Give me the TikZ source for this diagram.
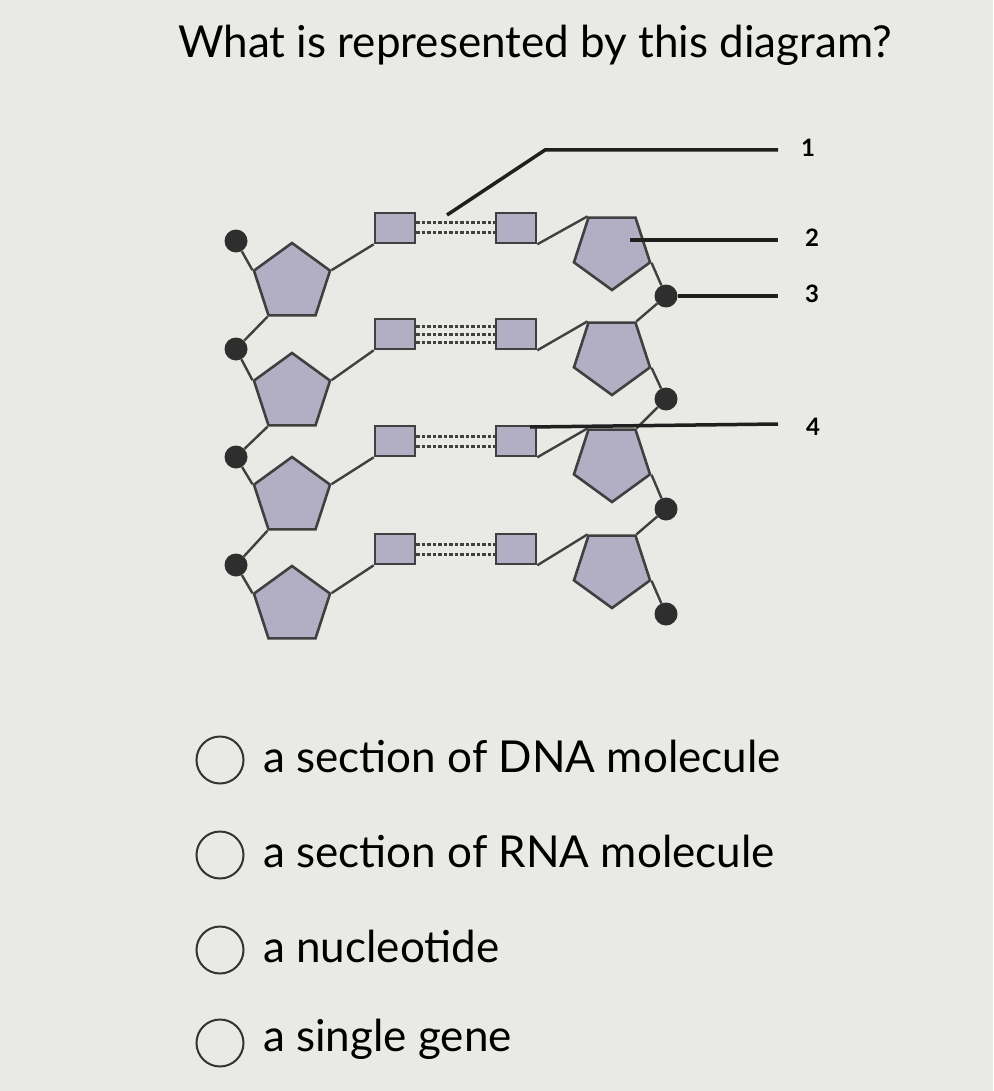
\documentclass[tikz,border=0pt]{standalone}
\usepackage{fontspec}
\setmainfont{Lato}
\usetikzlibrary{shapes.geometric}
\begin{document}
\begin{tikzpicture}[x=1pt,y=-1pt,
  pent/.style={regular polygon,regular polygon sides=5,minimum size=80pt,inner sep=0pt,draw=black!75,line width=2.6pt,fill=sugar},
  rpent/.style={pent,shape border rotate=180},
  base/.style={rectangle,minimum width=40pt,minimum height=30pt,inner sep=0pt,draw=black!75,line width=2.6pt,fill=sugar},
  phos/.style={circle,minimum size=23pt,inner sep=0pt,fill=black!82},
  link/.style={black!75,line width=2.4pt},
  bond/.style={black!75,line width=3pt,dash pattern=on 3.5pt off 2pt},
  lead/.style={black!88,line width=3.5pt},
  lbl/.style={font=\fontsize{24}{26}\selectfont\bfseries},
  opt/.style={circle,draw=black!80,line width=2pt,minimum size=47pt,inner sep=0pt},
  otxt/.style={anchor=west,font=\fontsize{44}{50}\selectfont,inner sep=0pt}]
\definecolor{sugar}{RGB}{178,174,196}
\fill[fill={rgb,255:red,233;green,233;blue,230}] (0,0) rectangle (993,1091);
\useasboundingbox (0,0) rectangle (993,1091);
\node[font=\fontsize{44}{50}\selectfont,anchor=west,inner sep=0pt] (title) at (178,45) {What is represented by this diagram?};
\foreach \i/\y in {1/283,2/393,3/497,4/606}{
  \node[pent] (L\i) at (292,\y) {};
}
\foreach \i/\y in {1/241,2/349,3/457,4/565}{
  \node[phos] (PL\i) at (236,\y) {};
}
\foreach \i/\y in {1/228,2/334,3/441,4/549}{
  \node[base] (BL\i) at (395,\y) {};
  \node[base] (BR\i) at (516,\y) {};
}
\foreach \i/\y in {1/250,2/355,3/462,4/568}{
  \node[rpent] (R\i) at (612,\y) {};
}
\foreach \i/\y in {1/296,2/399,3/509,4/614}{
  \node[phos] (PR\i) at (666,\y) {};
}
\foreach \i in {1,2,3,4}{
  \draw[link] (PL\i) -- (L\i.corner 2);
  \draw[link] (L\i.corner 5) -- (BL\i.south west);
  \draw[link] (BR\i.south east) -- (R\i.corner 4);
  \draw[link] (R\i.corner 2) -- (PR\i);
}
\foreach \i/\j in {1/2,2/3,3/4}{
  \draw[link] (L\i.corner 3) -- (PL\j);
  \draw[link] (PR\i) -- (R\j.corner 3);
}
\foreach \i in {1,3,4}{
  \draw[bond] ([yshift=-5pt]BL\i.east) -- ([yshift=-5pt]BR\i.west);
  \draw[bond] ([yshift=5pt]BL\i.east) -- ([yshift=5pt]BR\i.west);
}
\draw[bond] ([yshift=-8pt]BL2.east) -- ([yshift=-8pt]BR2.west);
\draw[bond] (BL2.east) -- (BR2.west);
\draw[bond] ([yshift=8pt]BL2.east) -- ([yshift=8pt]BR2.west);
\coordinate (e1) at (778,150);
\coordinate (e2) at (778,240);
\coordinate (e3) at (778,296);
\coordinate (e4) at (778,424);
\coordinate (k1) at (545,150);
\coordinate (s1) at (447,215);
\draw[lead] (s1) -- (k1) -- (e1);
\draw[lead] (R1.center) ++(18,-10) coordinate (s2) -- (e2);
\draw[lead] (PR1) -- (e3);
\draw[lead] (BR3.center) ++(14,-14) coordinate (s4) -- (e4);
\node[lbl] (n1) at (808,148) {1};
\node[lbl] (n2) at (812,238) {2};
\node[lbl] (n3) at (812,294) {3};
\node[lbl] (n4) at (813,427) {4};
\foreach \i/\y/\t in {1/760/a section of DNA molecule,2/855/a section of RNA molecule,3/950/a nucleotide,4/1043/a single gene}{
  \node[opt] (o\i) at (220,\y) {};
  \node[otxt] (t\i) at (263,\y-4) {\t};
}
\end{tikzpicture}
\end{document}
